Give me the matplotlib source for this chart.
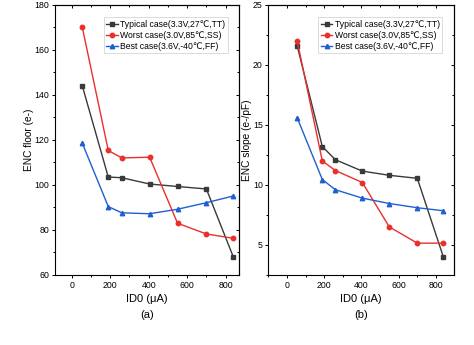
import matplotlib
matplotlib.use("Agg")
import matplotlib.pyplot as plt
from matplotlib.ticker import MultipleLocator

plt.rcParams["font.family"] = ["Liberation Sans", "DejaVu Sans"]

# ── Data ───────────────────────────────────────────────────────────────────
id0 = [55, 190, 260, 405, 550, 700, 840]

floor_typical = [144, 103.5, 103.2, 100.4, 99.3, 98.2, 68]
floor_worst   = [170, 115.3, 112.0, 112.3, 83.0, 78.2, 76.3]
floor_best    = [118.5, 90.4, 87.6, 87.2, 89.2, 92.1, 95.1]

slope_typical = [21.6, 13.2, 12.1, 11.15, 10.8, 10.55, 4.0]
slope_worst   = [22.0, 12.0, 11.2, 10.2, 6.5, 5.15, 5.15]
slope_best    = [15.6, 10.45, 9.6, 8.9, 8.45, 8.1, 7.85]

labels = ["Typical case(3.3V,27\u2103,TT)",
          "Worst case(3.0V,85\u2103,SS)",
          "Best case(3.6V,-40\u2103,FF)"]

STYLES = [("#3a3a3a", "s"), ("#e8302c", "o"), ("#1f5fcf", "^")]

fig = plt.figure(figsize=(4.74, 3.45), dpi=100)
ax1 = fig.add_axes([0.116, 0.203, 0.388, 0.783])
ax2 = fig.add_axes([0.566, 0.203, 0.391, 0.783])


def draw_panel(ax, series, ylim, ymaj, ymin_, xlim, ylabel, tag):
    for ys, (c, m), lab in zip(series, STYLES, labels):
        ax.plot(id0, ys, color=c, marker=m, ms=3.2, lw=1.0, label=lab)
    ax.set_xlim(*xlim)
    ax.set_ylim(*ylim)
    ax.xaxis.set_major_locator(MultipleLocator(200))
    ax.xaxis.set_minor_locator(MultipleLocator(100))
    ax.yaxis.set_major_locator(MultipleLocator(ymaj))
    ax.yaxis.set_minor_locator(MultipleLocator(ymin_))
    ax.tick_params(which="both", direction="out", labelsize=6.3,
                   width=0.7, pad=1.5)
    ax.tick_params(which="major", length=2.5)
    ax.tick_params(which="minor", length=1.5)
    for s in ax.spines.values():
        s.set_linewidth(0.8)
    # mirrored inward ticks on top / right
    top = ax.secondary_xaxis("top")
    right = ax.secondary_yaxis("right")
    for sec in (top, right):
        sec.tick_params(which="both", direction="in", width=0.7)
        sec.tick_params(which="major", length=2.5)
        sec.tick_params(which="minor", length=1.5)
    top.xaxis.set_major_locator(MultipleLocator(200))
    top.xaxis.set_minor_locator(MultipleLocator(100))
    top.set_xticklabels([])
    right.yaxis.set_major_locator(MultipleLocator(ymaj))
    right.yaxis.set_minor_locator(MultipleLocator(ymin_))
    right.set_yticklabels([])
    ax.set_xlabel("ID0 (\u03bcA)", fontsize=8, labelpad=3)
    ax.set_ylabel(ylabel, fontsize=7.3, labelpad=0.5)
    ax.text(0.5, -0.13, tag, transform=ax.transAxes, ha="center",
            va="top", fontsize=8)
    leg = ax.legend(loc="upper right", bbox_to_anchor=(0.94, 0.955),
                    fontsize=6.2, frameon=True, fancybox=False,
                    handlelength=1.3, handletextpad=0.3, borderpad=0.3,
                    labelspacing=0.25, borderaxespad=0)
    leg.get_frame().set_edgecolor("#cccccc")
    leg.get_frame().set_linewidth(0.6)


draw_panel(ax1, [floor_typical, floor_worst, floor_best], (60, 180), 20, 10,
           (-87, 869), "ENC floor (e-)", "(a)")
draw_panel(ax2, [slope_typical, slope_worst, slope_best], (2.5, 25), 5, 2.5,
           (-100, 895), "ENC slope (e-/pF)", "(b)")

fig.savefig("out.png", dpi=100)
